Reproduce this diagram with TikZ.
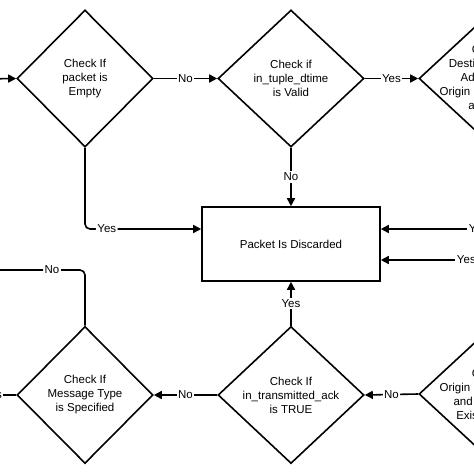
\documentclass[tikz,border=0pt]{standalone}
\usepackage{fontspec}
\setmainfont{Liberation Sans}
\usetikzlibrary{shapes.geometric,arrows.meta}
\begin{document}
\begin{tikzpicture}[x=1pt,y=-1pt,
  dia/.style={draw, diamond, line width=1.6pt, inner sep=0pt, minimum width=#1, minimum height=137pt},
  txt/.style={align=center, inner sep=0pt, font=\fontsize{11.5}{14}\selectfont},
  lbl/.style={fill=white, inner sep=1.5pt, font=\fontsize{11.5}{14}\selectfont},
  box/.style={draw, line width=1.6pt, minimum width=178pt, minimum height=74pt, inner sep=0pt, font=\fontsize{11.5}{14}\selectfont},
  conn/.style={line width=1.6pt},
  arr/.style={conn, -{Triangle[length=8pt,width=8pt]}}
]
\useasboundingbox (0,0) rectangle (474,474);
\clip (0,0) rectangle (474,474);
\fill[white] (0,0) rectangle (474,474);

\node[dia=136pt, label={[txt]center:{Check If\\packet is\\Empty}}] (d1) at (85,78.5) {};
\node[dia=146pt, label={[txt]center:{Check if\\in\_tuple\_dtime\\is Valid}}] (d2) at (291,78.5) {};
\node[dia=148pt, label={[txt]center:{Check If\\Destination Node\\Address and\\Origin Node Address\\are Equal}}] (d3) at (493,78.5) {};
\node[box] (rect) at (291,244) {Packet Is Discarded};
\node[dia=136pt, label={[txt]center:{Check If\\Message Type\\is Specified}}] (d4) at (85,395) {};
\node[dia=146pt, label={[txt]center:{Check If\\in\_transmitted\_ack\\is TRUE}}] (d5) at (291,395) {};
\node[dia=148pt, label={[txt]center:{Check If\\Origin Node Address\\and Timestamp\\Exists in Table}}] (d6) at (493,394) {};

\coordinate (inL) at (-20,79);
\coordinate (d4no) at (-20,270);
\coordinate (d4yes) at (-40,395);
\coordinate (r1) at (540,229);
\coordinate (r2) at (540,260);

\draw[arr] (inL) -- (d1.west);
\draw[arr] (d1.east) -- node[lbl]{No} (d2.west);
\draw[arr] (d2.east) -- node[lbl]{Yes} (d3.west);
\draw[arr] (d2.south) -- node[lbl]{No} (rect.north);
\draw[arr, rounded corners=5pt] (d1.south) |- node[lbl, pos=0.594]{Yes} ([yshift=15pt]rect.west);
\draw[arr] (r1) -- node[lbl, pos=0.3875]{Yes} ([yshift=15pt]rect.east);
\draw[arr] (r2) -- node[lbl, pos=0.4625]{Yes} ([yshift=-16pt]rect.east);
\draw[arr] (d5.north) -- node[lbl]{Yes} (rect.south);
\draw[arr] (d5.west) -- node[lbl]{No} (d4.east);
\draw[arr] (d6.west) -- node[lbl]{No} (d5.east);
\draw[conn, rounded corners=5pt] (d4.north) |- node[lbl, pos=0.657]{No} (d4no);
\draw[conn] (d4.west) -- node[lbl, pos=0.42]{Yes} (d4yes);
\end{tikzpicture}
\end{document}
